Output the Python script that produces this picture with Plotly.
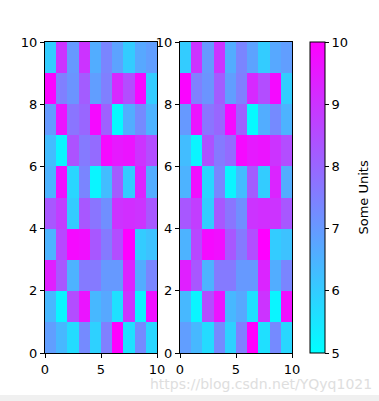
import plotly.graph_objects as go

# rows listed from y=0 (bottom) to y=9 (top); columns x=0..9
values = [
    [6.9, 6.4, 5.7, 7.3, 5.9, 7.5, 10.0, 5.6, 7.3, 5.8],
    [6.4, 5.2, 8.5, 9.6, 6.4, 6.7, 5.6, 9.0, 5.2, 9.7],
    [9.4, 8.3, 6.5, 7.6, 7.6, 7.0, 7.0, 9.3, 6.6, 7.4],
    [6.5, 8.6, 9.8, 9.7, 8.3, 7.6, 8.5, 10.0, 6.0, 6.2],
    [8.3, 8.8, 6.0, 8.3, 7.7, 7.2, 9.0, 9.1, 9.0, 8.3],
    [6.5, 9.7, 5.8, 7.4, 5.2, 6.3, 8.2, 6.0, 9.3, 6.6],
    [6.3, 5.2, 8.4, 7.6, 7.9, 9.8, 9.5, 9.6, 9.0, 8.5],
    [7.0, 9.6, 7.7, 8.0, 9.8, 8.1, 5.1, 6.6, 7.3, 6.5],
    [9.9, 7.5, 7.1, 8.2, 6.9, 7.5, 9.2, 8.5, 9.8, 6.0],
    [6.0, 9.0, 7.0, 9.0, 6.6, 7.4, 6.8, 6.0, 6.7, 6.9],
]
x_centers = [i + 0.5 for i in range(10)]
y_centers = [i + 0.5 for i in range(10)]
x_ticks = [0, 5, 10]
y_ticks = [0, 2, 4, 6, 8, 10]
cbar_ticks = [5, 6, 7, 8, 9, 10]
cbar_title = "Some Units"
watermark = "https://blog.csdn.net/YQyq1021"

W, H = 379, 401
cool = [[0, "rgb(0,255,255)"], [1, "rgb(255,0,255)"]]

y0 = 1 - 353 / H
y1 = 1 - 42 / H

fig = go.Figure()
fig.add_trace(go.Heatmap(z=values, x=x_centers, y=y_centers, colorscale=cool,
                         zmin=5, zmax=10, showscale=False, xaxis="x", yaxis="y"))
fig.add_trace(go.Heatmap(z=values, x=x_centers, y=y_centers, colorscale=cool,
                         zmin=5, zmax=10, xaxis="x2", yaxis="y2",
                         colorbar=dict(
                             x=310 / W, xanchor="left", xpad=0, ypad=0,
                             y=y0, yanchor="bottom", len=y1 - y0, lenmode="fraction",
                             thickness=15, thicknessmode="pixels",
                             outlinecolor="black", outlinewidth=1,
                             tickvals=cbar_ticks, ticks="outside", ticklen=4,
                             tickcolor="black",
                             tickfont=dict(family="DejaVu Sans", size=13, color="black"),
                         )))

axis_common = dict(range=[0, 10], showline=True, mirror=True, linecolor="black",
                   linewidth=1, ticks="outside", ticklen=4, tickcolor="black",
                   showgrid=False, zeroline=False, automargin=False,
                   tickfont=dict(family="DejaVu Sans", size=13, color="black"))

fig.update_layout(
    width=W, height=H,
    margin=dict(l=0, r=0, t=0, b=0, autoexpand=False),
    paper_bgcolor="white", plot_bgcolor="white",
    xaxis=dict(domain=[45 / W, 157 / W], anchor="y", tickvals=x_ticks, **axis_common),
    yaxis=dict(domain=[y0, y1], anchor="x", tickvals=y_ticks, **axis_common),
    xaxis2=dict(domain=[180 / W, 292 / W], anchor="y2", tickvals=x_ticks, **axis_common),
    yaxis2=dict(domain=[y0, y1], anchor="x2", tickvals=y_ticks, **axis_common),
    showlegend=False,
)

fig.add_annotation(x=363 / W, y=(y0 + y1) / 2, xref="paper", yref="paper",
                   xanchor="center", yanchor="middle",
                   text=cbar_title, textangle=-90, showarrow=False,
                   font=dict(family="DejaVu Sans", size=13, color="black"))
fig.add_annotation(x=261 / W, y=1 - 384 / H, xref="paper", yref="paper",
                   xanchor="center", yanchor="middle",
                   text=watermark, showarrow=False,
                   font=dict(family="DejaVu Sans", size=14, color="rgb(222,222,222)"))
fig.add_shape(type="rect", xref="paper", yref="paper", x0=0, x1=1,
              y0=0, y1=6 / H, fillcolor="rgb(240,240,240)", line=dict(width=0),
              layer="below")

fig.write_html("out.html", config={"displayModeBar": False},
               post_script="document.body.style.margin='0';document.body.style.overflow='hidden';")
